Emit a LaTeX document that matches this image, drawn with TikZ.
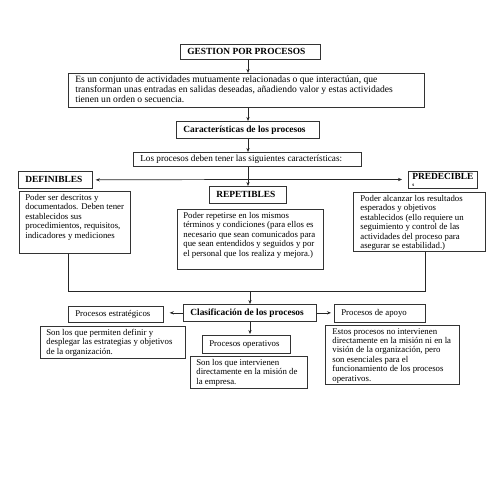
\documentclass[tikz,border=0pt]{standalone}
\usepackage{fontspec}
\setmainfont{Liberation Serif}
\usetikzlibrary{arrows.meta}
\newcommand\txtfs{\fontsize{8.8pt}{9.4pt}\selectfont}
\newcommand\onefs{\fontsize{8.8pt}{10pt}\selectfont}
\newcommand\hdfs{\fontsize{9.4pt}{10pt}\selectfont\bfseries}
\newcommand\topfs{\fontsize{9.6pt}{10.2pt}\selectfont}
\tikzset{
  bx/.style={draw=black!80, line width=0.7pt, anchor=north west, inner xsep=7pt, inner ysep=0pt, font=\onefs},
  hd/.style={bx, font=\hdfs},
  db/.style={draw=black!80, line width=0.7pt, anchor=north west, inner xsep=6pt, inner ysep=3pt, font=\txtfs},
  ln/.style={draw=black!85, line width=0.7pt},
  arr/.style={ln, -{Stealth[length=4pt,width=3.2pt]}},
}
\begin{document}
\begin{tikzpicture}[x=1pt,y=-1pt]
\useasboundingbox (0,0) rectangle (495,495);
% top chain
\node[hd, minimum height=15pt] (gestion) at (180,44) {\makebox[126pt][l]{GESTION POR PROCESOS}};
\node[db, inner xsep=7pt, inner ysep=2pt] (def) at (68,73) {\parbox[t][30pt][t]{342pt}{\topfs Es un conjunto de actividades mutuamente relacionadas o que interactúan, que\\ transforman unas entradas en salidas deseadas, añadiendo valor y estas actividades\\ tienen un orden o secuencia.}};
\node[hd, minimum height=17pt] (car) at (176,121) {\makebox[129pt][l]{Características de los procesos}};
\node[bx, minimum height=14pt, font=\fontsize{9.2pt}{10pt}\selectfont] (los) at (133,152) {\makebox[214pt][l]{Los procesos deben tener las siguientes características:}};
% three characteristics
\node[hd, minimum height=17pt] (defin) at (18,171) {\makebox[60pt][l]{DEFINIBLES}};
\node[db, inner xsep=4pt, inner ysep=2pt] (pred) at (408,171) {\parbox[t][13pt][t]{61pt}{\hdfs PREDECIBLE\\[-3.5pt]{\fontsize{5pt}{5pt}\selectfont s}}};
\node[hd, minimum height=17pt] (rep) at (209,186) {\makebox[63pt][l]{REPETIBLES}};
\node[db] (defdesc) at (19,191) {\parbox[t][56pt][t]{99pt}{Poder ser descritos y\\ documentados. Deben tener\\ establecidos sus\\ procedimientos, requisitos,\\ indicadores y mediciones}};
\node[db] (repdesc) at (177,209) {\parbox[t][54pt][t]{134pt}{Poder repetirse en los mismos\\ términos y condiciones (para ellos es\\ necesario que sean comunicados para\\ que sean entendidos y seguidos y por\\ el personal que los realiza y mejora.)}};
\node[db, inner xsep=7pt] (predesc) at (353,192) {\parbox[t][53pt][t]{118pt}{Poder alcanzar los resultados\\ esperados y objetivos\\ establecidos (ello requiere un\\ seguimiento y control de las\\ actividades del proceso para\\ asegurar se estabilidad.)}};
% classification
\node[hd, minimum height=17pt] (clas) at (183,304) {\makebox[119pt][l]{Clasificación de los procesos}};
\node[bx, minimum height=16pt] (estr) at (68,306) {\makebox[81pt][l]{Procesos estratégicos}};
\node[bx, minimum height=18pt] (apoyo) at (334,304) {\makebox[77pt][l]{Procesos de apoyo}};
\node[bx, minimum height=18pt] (oper) at (202,335) {\makebox[74pt][l]{Procesos operativos}};
\node[db, inner xsep=6pt] (estrdesc) at (40,326) {\parbox[t][26pt][t]{133pt}{Son los que permiten definir y\\ desplegar las estrategias y objetivos\\ de la organización.}};
\node[db, inner xsep=6pt] (operdesc) at (190,356) {\parbox[t][26pt][t]{105pt}{Son los que intervienen\\ directamente en la misión de\\ la empresa.}};
\node[db, inner xsep=7pt] (apoyodesc) at (325,325) {\parbox[t][53pt][t]{120pt}{Estos procesos no intervienen\\ directamente en la misión ni en la\\ visión de la organización, pero\\ son esenciales para el\\ funcionamiento de los procesos\\ operativos.}};
% connectors
\coordinate (hl) at (248,179.5);
\coordinate (bl) at (68,291);
\coordinate (br) at (425,291);
\coordinate (cx) at (250,0);
\draw[arr] (gestion.south -| hl) -- (def.north -| hl);
\draw[arr] (def.south -| hl) -- (car.north -| hl);
\draw[arr] (car.south -| hl) -- (los.north -| hl);
\draw[arr] (los.south -| hl) -- (rep.north -| hl);
\draw[arr, shorten >=3pt] (hl) -- (defin.east);
\draw[arr, shorten >=6pt] (hl) -- (hl -| pred.west);
\draw[ln] (defdesc.south -| bl) -- (bl) -- (br) -- (predesc.south -| br);
\draw[arr] (bl -| cx) -- (clas.north -| cx);
\draw[arr, shorten >=6pt] (clas.west) -- (clas.west -| estr.east);
\draw[arr, shorten >=3pt] (clas.east) -- (clas.east -| apoyo.west);
\draw[arr, shorten >=1pt] (clas.south -| cx) -- (oper.north -| cx);
\end{tikzpicture}
\end{document}
